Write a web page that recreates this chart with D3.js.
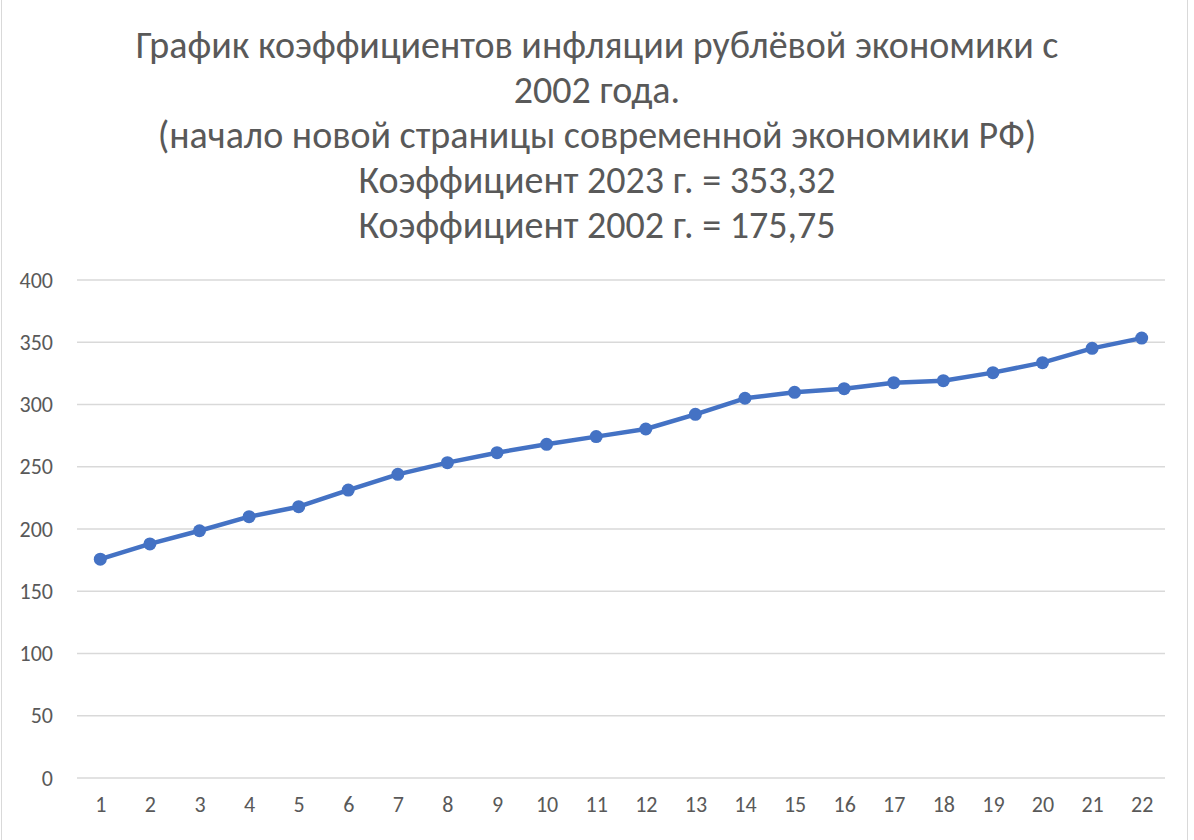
<!DOCTYPE html>
<html>
<head>
<meta charset="utf-8">
<script src="https://cdn.jsdelivr.net/npm/d3@7"></script>
<style>
  body { margin: 0; background: #fff; }
  svg { display: block; }
  text { font-family: Carlito, Calibri, "Open Sans", sans-serif; fill: #595959; }
</style>
</head>
<body>
<svg width="1194" height="840"></svg>
<script>
// номера лет (1 = 2002 ... 22 = 2023)
let years = d3.range(1, 23);
// коэффициенты
let coefs = [175.75, 188, 198.6, 209.9, 217.9, 231.3, 243.9, 253.3, 261.3, 268, 274.2,
             280.3, 292.1, 305, 309.8, 312.7, 317.5, 319.1, 325.6, 333.6, 345.1, 353.32];
let yTicks = [0, 50, 100, 150, 200, 250, 300, 350, 400];
let titleLines = [
    "График коэффициентов инфляции рублёвой экономики с",
    "2002 года.",
    "(начало новой страницы современной экономики РФ)",
    "Коэффициент 2023 г. = 353,32",
    "Коэффициент 2002 г. = 175,75"
];

let svg = d3.select("svg");
let width = 1194, height = 840;
let font = 'Carlito, Calibri, "Open Sans", sans-serif';

// рамка
svg.append("rect")
    .attr("x", 1.5).attr("y", -2)
    .attr("width", width - 8).attr("height", height + 4)
    .attr("fill", "none")
    .attr("stroke", "#d9d9d9")
    .attr("stroke-width", 1);

let plotLeft = 77, plotRight = 1165, plotTop = 280, plotBottom = 778;

let x = d3.scalePoint()
    .domain(years)
    .range([plotLeft, plotRight])
    .padding(0.47);

let y = d3.scaleLinear()
    .domain([0, 400])
    .range([plotBottom, plotTop]);

// сетка
svg.append("g")
    .selectAll("line")
    .data(yTicks)
    .enter().append("line")
    .attr("x1", plotLeft).attr("x2", plotRight)
    .attr("y1", d => y(d)).attr("y2", d => y(d))
    .attr("stroke", "#d9d9d9")
    .attr("stroke-width", 1.3);

// ось Y
let yAxis = svg.append("g")
    .attr("transform", "translate(" + (plotLeft - 24) + ",0)")
    .call(d3.axisLeft(y).tickValues(yTicks).tickSize(0).tickPadding(0));
yAxis.select(".domain").remove();
yAxis.attr("font-size", 22).attr("font-family", font);
yAxis.selectAll("text").attr("fill", "#595959");

// ось X
let xAxis = svg.append("g")
    .attr("transform", "translate(0," + (plotBottom + 18) + ")")
    .call(d3.axisBottom(x).tickSize(0).tickPadding(0));
xAxis.select(".domain").remove();
xAxis.attr("font-size", 22).attr("font-family", font);
xAxis.selectAll("text").attr("fill", "#595959");

// линия
let line = d3.line()
    .x((d, i) => x(years[i]))
    .y(d => y(d));

svg.append("path")
    .datum(coefs)
    .attr("d", line)
    .attr("fill", "none")
    .attr("stroke", "#4472c4")
    .attr("stroke-width", 4.5)
    .attr("stroke-linejoin", "round");

svg.append("g")
    .selectAll("circle")
    .data(coefs)
    .enter().append("circle")
    .attr("cx", (d, i) => x(years[i]))
    .attr("cy", d => y(d))
    .attr("r", 6.5)
    .attr("fill", "#4472c4");

// заголовок
svg.append("g")
    .selectAll("text")
    .data(titleLines)
    .enter().append("text")
    .attr("x", 597)
    .attr("y", (d, i) => 58 + i * 45)
    .attr("text-anchor", "middle")
    .attr("font-size", "38px")
    .text(d => d);
</script>
</body>
</html>
